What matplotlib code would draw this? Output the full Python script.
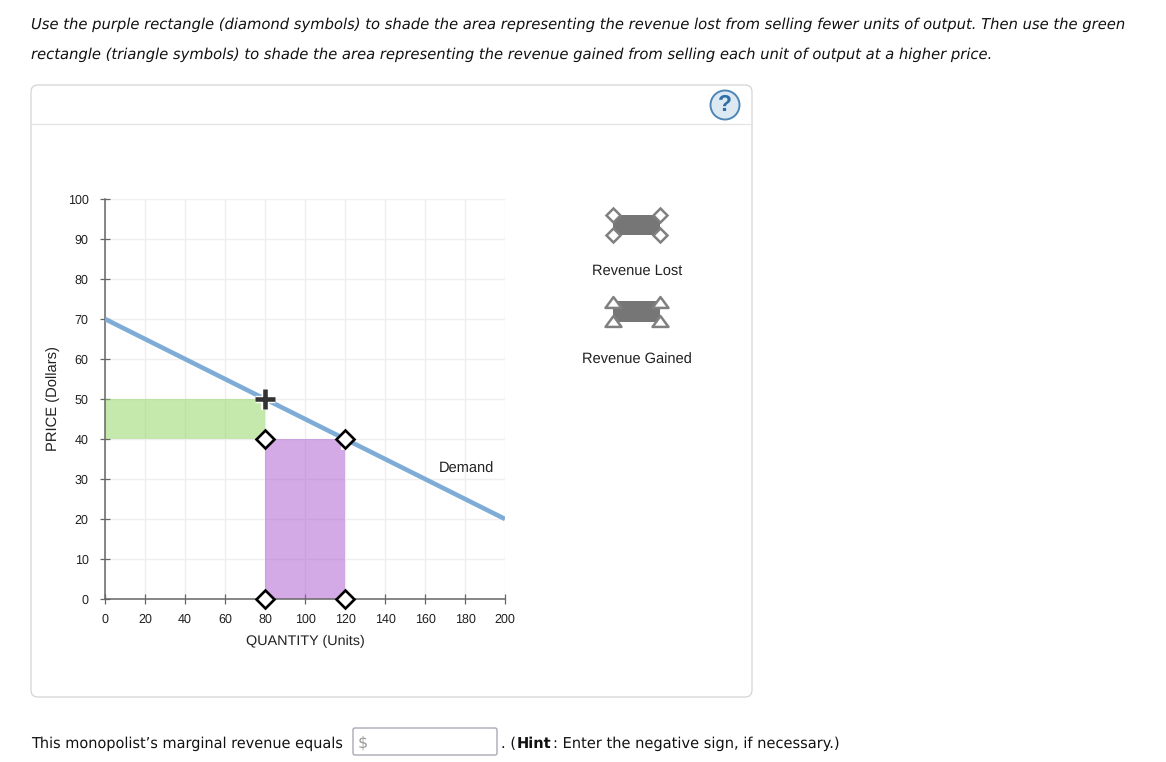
import numpy as np
import matplotlib
matplotlib.use('Agg')
import matplotlib.pyplot as plt
import matplotlib.patheffects as pe
from matplotlib.patches import FancyBboxPatch, Rectangle, Circle
from matplotlib.path import Path

plt.rcParams['text.hinting'] = 'no_hinting'
plt.rcParams['text.hinting_factor'] = 8

# demand curve
demand_q = [0, 200]
demand_p = [70, 20]

# shaded areas
gained_q = [0, 80]
gained_p = [40, 50]
lost_q = [80, 120]
lost_p = [0, 40]

# handles on the graph
diamond_q = [80, 120, 80, 120]
diamond_p = [40, 40, 0, 0]
plus_q = [80]
plus_p = [50]

x_ticks = list(range(0, 201, 20))
y_ticks = list(range(0, 101, 10))

W, H = 1166, 762
CHART = 'Liberation Sans'
PAGE = 'DejaVu Sans'

fig = plt.figure(figsize=(W / 100, H / 100), dpi=100, facecolor='white')

## page furniture, in pixels
bg = fig.add_axes([0, 0, 1, 1], zorder=0)
bg.set_xlim(0, W)
bg.set_ylim(H, 0)
bg.axis('off')

bg.text(31, 25, 'Use the purple rectangle (diamond symbols) to shade the area representing the revenue lost from selling fewer units of output. Then use the green',
        family=PAGE, style='italic', fontsize=10.66, color='#111111', va='center')
bg.text(31, 55, 'rectangle (triangle symbols) to shade the area representing the revenue gained from selling each unit of output at a higher price.',
        family=PAGE, style='italic', fontsize=10.62, color='#111111', va='center')

bg.add_patch(FancyBboxPatch((31, 85), 721, 612, boxstyle='round,pad=0,rounding_size=7',
                            fc='white', ec='#d4d4d4', lw=0.9))
bg.plot([31, 752], [124, 124], color='#e4e4e4', lw=0.9)

bg.add_patch(Circle((725, 105), 14.5, fc='#dce8f2', ec='#4f86b5', lw=1.4))
bg.text(725, 105, '?', family=CHART, weight='bold', fontsize=16.5, color='#2f6ea8', ha='center', va='center')

# legend icons
bg.add_patch(Rectangle((613, 215), 47, 20, fc='#767676', ec='none'))
bg.plot([613, 660, 613, 660], [215, 215, 235, 235], ls='none', marker='D', ms=7.5,
        mfc='white', mec='#808080', mew=1.8)
bg.text(637, 270.5, 'Revenue Lost', family=CHART, fontsize=10.5, color='#222222', ha='center', va='center')

bg.add_patch(Rectangle((613, 301), 47, 21, fc='#767676', ec='none'))
wide_triangle = Path([(-1, -0.68), (1, -0.68), (0, 0.68), (-1, -0.68)], closed=True)
bg.plot([613, 660, 613, 660], [302, 302, 321, 321], ls='none', marker=wide_triangle, ms=11.5,
        mfc='white', mec='#808080', mew=1.8)
bg.text(637, 360, 'Revenue Gained', family=CHART, fontsize=10.5, color='#222222', ha='center', va='center')

# answer line under the panel
bg.text(31, 744, 'This monopolist\u2019s marginal revenue equals', family=PAGE, fontsize=10.47,
        color='#111111', va='center')
bg.add_patch(FancyBboxPatch((353, 728), 144, 27, boxstyle='round,pad=0,rounding_size=2',
                            fc='white', ec='#a9a9b5', lw=1))
bg.text(358, 743, '$', family=PAGE, fontsize=11.5, color='#999999', va='center')
bg.text(501, 744, '. (', family=PAGE, fontsize=10.5, color='#111111', va='center')
bg.text(517, 744, 'Hint', family=PAGE, weight='bold', fontsize=10.5, color='#111111', va='center')
bg.text(553, 744, ': Enter the negative sign, if necessary.)', family=PAGE, fontsize=10.55,
        color='#111111', va='center')

## the graph itself
ax = fig.add_axes([105 / W, 1 - 599 / H, 400 / W, 400 / H], zorder=1)
ax.patch.set_alpha(0)
ax.set_xlim(0, 200)
ax.set_ylim(0, 100)
ax.set_xticks(x_ticks)
ax.set_yticks(y_ticks)
ax.grid(True, color='#efefef', lw=1)
ax.set_axisbelow(True)
for s in ['top', 'right']:
    ax.spines[s].set_visible(False)
for s in ['left', 'bottom']:
    ax.spines[s].set_color('#666666')
    ax.spines[s].set_linewidth(1.1)
ax.tick_params(direction='inout', length=7.5, width=0.9, color='#666666',
               labelsize=9, labelcolor='#222222')
ax.tick_params(axis='x', pad=7)
ax.tick_params(axis='y', pad=8)
for lab in ax.get_xticklabels() + ax.get_yticklabels():
    lab.set_family(CHART)
ax.set_xlabel('QUANTITY (Units)', family=CHART, fontsize=10.35, color='#222222', labelpad=6.4)
ax.set_ylabel('PRICE (Dollars)', family=CHART, fontsize=10.6, color='#222222', labelpad=5.5)

# white notch left by the handle at the top right corner of each rectangle
nx, ny = 2, 2.75
ax.fill([gained_q[0], gained_q[1] - nx, gained_q[1] - nx, gained_q[1], gained_q[1], gained_q[0]],
        [gained_p[1], gained_p[1], gained_p[1] - ny, gained_p[1] - ny, gained_p[0], gained_p[0]],
        color='#8dd35d', alpha=0.5, lw=0, zorder=2)
ax.fill([lost_q[0], lost_q[1] - nx, lost_q[1] - nx, lost_q[1], lost_q[1], lost_q[0]],
        [lost_p[1], lost_p[1], lost_p[1] - ny, lost_p[1] - ny, lost_p[0], lost_p[0]],
        color='#a957cd', alpha=0.5, lw=0, zorder=2)

ax.plot(demand_q, demand_p, color='#7fabd7', lw=3.3, solid_capstyle='butt', zorder=3)
ax.text(180.5, 32.4, 'Demand', family=CHART, fontsize=10.5, color='#222222', ha='center', va='center')

halo = [pe.withStroke(linewidth=5.3, foreground='white')]
ax.plot(diamond_q, diamond_p, ls='none', marker='D', ms=9, mfc='white', mec='black', mew=1.9,
        clip_on=False, zorder=5)
ax.plot(plus_q, plus_p, ls='none', marker='+', ms=14, mec='#333333', mew=3.3,
        clip_on=False, zorder=5, path_effects=halo)

fig.savefig('out.png', dpi=100)
